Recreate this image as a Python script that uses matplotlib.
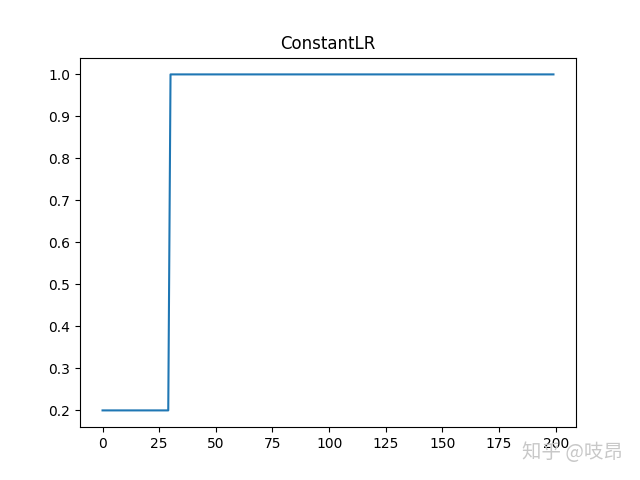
import matplotlib
matplotlib.use("Agg")
import matplotlib.pyplot as plt

epochs = list(range(200))
lr_before = 0.2   # factor applied for first 30 epochs
lr_after = 1.0
switch_epoch = 30
lrs = [lr_before] * switch_epoch + [lr_after] * (len(epochs) - switch_epoch)

fig, ax = plt.subplots(figsize=(6.4, 4.8), dpi=100)
ax.plot(epochs, lrs)
ax.set_title("ConstantLR")
fig.text(0.973, 0.057, "知乎 @吱昂", ha="right", va="center", fontsize=14,
         color="#c8c8c8", family=["Noto Sans CJK SC", "DejaVu Sans"])
fig.savefig("out.png")
